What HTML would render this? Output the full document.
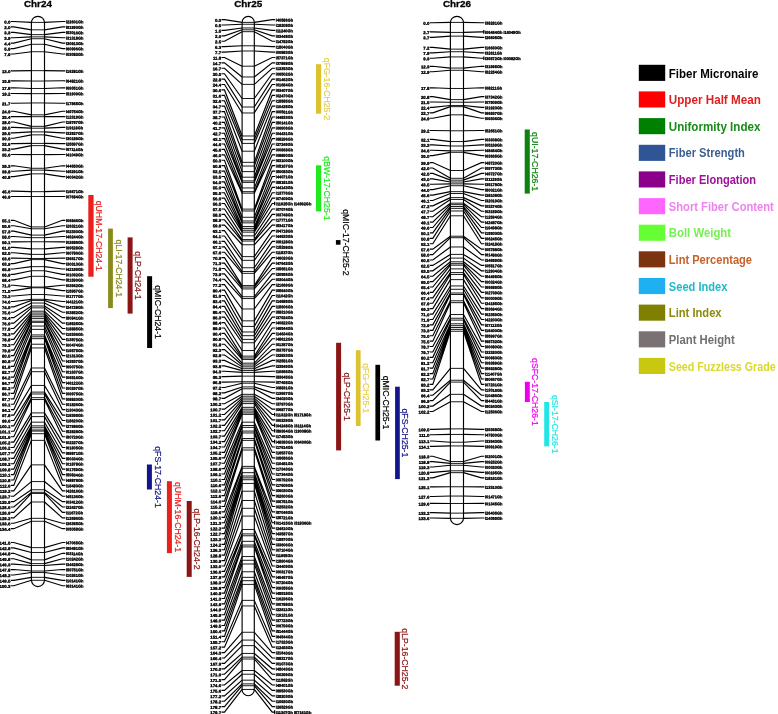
<!DOCTYPE html>
<html><head><meta charset="utf-8"><title>Linkage map Chr24 Chr25 Chr26</title>
<style>
html,body{margin:0;padding:0;background:#fff}
svg{display:block;font-family:"Liberation Sans",Arial,sans-serif}
.t{font-size:9.4px;font-weight:bold;text-anchor:middle;fill:#000;stroke:#000;stroke-width:.3px}
.m{fill:none;stroke:#000;stroke-width:1.15}
.n{fill:none;stroke:#000;stroke-width:.9}
.b{fill:none;stroke:#000;stroke-width:1.15}
.l text{font-size:3.95px;font-weight:bold;text-anchor:end;fill:#000;stroke:#000;stroke-width:.32px}
.r text{font-size:3.9px;font-weight:bold;text-anchor:start;fill:#000;stroke:#000;stroke-width:.32px}
.q{font-size:8.95px;text-anchor:middle;stroke-width:.2px}
.g{font-size:12.7px;font-weight:bold}
</style></head><body>
<svg width="778" height="714" viewBox="0 0 778 714">
<rect width="778" height="714" fill="#fff"/>
<text x="37.9" y="7.0" class="t" textLength="28" lengthAdjust="spacingAndGlyphs">Chr24</text>
<path class="m" d="M10.8 21.50H13.8L31.4 22.40M44.5 22.40L62.4 21.50H65.4M10.8 26.91H13.8L31.4 29.82M44.5 29.82L62.4 26.91H65.4M10.8 32.32H13.8L31.4 34.65M44.5 34.65L62.4 32.32H65.4M10.8 37.73H13.8L31.4 36.88M44.5 36.88L62.4 37.73H65.4M10.8 43.14H13.8L31.4 38.73M44.5 38.73L62.4 43.14H65.4M10.8 48.55H13.8L31.4 44.30M44.5 44.30L62.4 48.55H65.4M10.8 53.96H13.8L31.4 51.72M44.5 51.72L62.4 53.96H65.4M10.8 70.90H13.8L31.4 70.66M44.5 70.66L62.4 70.90H65.4M10.8 80.80H13.8L31.4 81.05M44.5 81.05L62.4 80.80H65.4M10.8 87.80H13.8L31.4 88.47M44.5 88.47L62.4 87.80H65.4M10.8 93.50H13.8L31.4 93.67M44.5 93.67L62.4 93.50H65.4M10.8 103.20H13.8L31.4 102.95M44.5 102.95L62.4 103.20H65.4M10.8 111.20H13.8L31.4 114.83M44.5 114.83L62.4 111.20H65.4M10.8 116.61H13.8L31.4 116.68M44.5 116.68L62.4 116.61H65.4M10.8 122.02H13.8L31.4 126.34M44.5 126.34L62.4 122.02H65.4M10.8 127.43H13.8L31.4 128.19M44.5 128.19L62.4 127.43H65.4M10.8 132.84H13.8L31.4 131.90M44.5 131.90L62.4 132.84H65.4M10.8 138.25H13.8L31.4 134.87M44.5 134.87L62.4 138.25H65.4M10.8 143.66H13.8L31.4 143.41M44.5 143.41L62.4 143.66H65.4M10.8 149.07H13.8L31.4 145.64M44.5 145.64L62.4 149.07H65.4M10.8 154.48H13.8L31.4 154.55M44.5 154.55L62.4 154.48H65.4M10.8 165.80H13.8L31.4 168.28M44.5 168.28L62.4 165.80H65.4M10.8 171.21H13.8L31.4 170.14M44.5 170.14L62.4 171.21H65.4M10.8 176.62H13.8L31.4 173.85M44.5 173.85L62.4 176.62H65.4M10.8 191.10H13.8L31.4 191.67M44.5 191.67L62.4 191.10H65.4M10.8 196.51H13.8L31.4 196.49M44.5 196.49L62.4 196.51H65.4M10.8 220.30H13.8L31.4 226.93M44.5 226.93L62.4 220.30H65.4M10.8 225.71H13.8L31.4 228.79M44.5 228.79L62.4 225.71H65.4M10.8 231.12H13.8L31.4 235.10M44.5 235.10L62.4 231.12H65.4M10.8 236.53H13.8L31.4 237.70M44.5 237.70L62.4 236.53H65.4M10.8 241.94H13.8L31.4 241.78M44.5 241.78L62.4 241.94H65.4M10.8 247.35H13.8L31.4 248.83M44.5 248.83L62.4 247.35H65.4M10.8 252.76H13.8L31.4 254.40M44.5 254.40L62.4 252.76H65.4M10.8 258.17H13.8L31.4 258.48M44.5 258.48L62.4 258.17H65.4M10.8 263.58H13.8L31.4 259.60M44.5 259.60L62.4 263.58H65.4M10.8 268.99H13.8L31.4 266.65M44.5 266.65L62.4 268.99H65.4M10.8 274.40H13.8L31.4 270.73M44.5 270.73L62.4 274.40H65.4M10.8 279.81H13.8L31.4 276.30M44.5 276.30L62.4 279.81H65.4M10.8 285.22H13.8L31.4 287.07M44.5 287.07L62.4 285.22H65.4M10.8 290.63H13.8L31.4 287.81M44.5 287.81L62.4 290.63H65.4M10.8 296.04H13.8L31.4 294.49M44.5 294.49L62.4 296.04H65.4M10.8 301.45H13.8L31.4 299.32M44.5 299.32L62.4 301.45H65.4M10.8 306.86H13.8L31.4 300.43M44.5 300.43L62.4 306.86H65.4M10.8 312.27H13.8L31.4 303.03M44.5 303.03L62.4 312.27H65.4M10.8 317.68H13.8L31.4 306.00M44.5 306.00L62.4 317.68H65.4M10.8 323.09H13.8L31.4 307.85M44.5 307.85L62.4 323.09H65.4M10.8 328.50H13.8L31.4 311.19M44.5 311.19L62.4 328.50H65.4M10.8 333.91H13.8L31.4 313.05M44.5 313.05L62.4 333.91H65.4M10.8 339.32H13.8L31.4 314.91M44.5 314.91L62.4 339.32H65.4M10.8 344.73H13.8L31.4 316.76M44.5 316.76L62.4 344.73H65.4M10.8 350.14H13.8L31.4 318.62M44.5 318.62L62.4 350.14H65.4M10.8 355.55H13.8L31.4 321.22M44.5 321.22L62.4 355.55H65.4M10.8 360.96H13.8L31.4 322.33M44.5 322.33L62.4 360.96H65.4M10.8 366.37H13.8L31.4 326.04M44.5 326.04L62.4 366.37H65.4M10.8 371.78H13.8L31.4 329.38M44.5 329.38L62.4 371.78H65.4M10.8 377.19H13.8L31.4 334.95M44.5 334.95L62.4 377.19H65.4M10.8 382.60H13.8L31.4 336.81M44.5 336.81L62.4 382.60H65.4M10.8 388.01H13.8L31.4 338.66M44.5 338.66L62.4 388.01H65.4M10.8 393.42H13.8L31.4 344.23M44.5 344.23L62.4 393.42H65.4M10.8 398.83H13.8L31.4 347.94M44.5 347.94L62.4 398.83H65.4M10.8 404.24H13.8L31.4 367.99M44.5 367.99L62.4 404.24H65.4M10.8 409.65H13.8L31.4 371.70M44.5 371.70L62.4 409.65H65.4M10.8 415.06H13.8L31.4 385.43M44.5 385.43L62.4 415.06H65.4M10.8 420.47H13.8L31.4 392.12M44.5 392.12L62.4 420.47H65.4M10.8 425.88H13.8L31.4 393.97M44.5 393.97L62.4 425.88H65.4M10.8 431.29H13.8L31.4 397.68M44.5 397.68L62.4 431.29H65.4M10.8 436.70H13.8L31.4 399.54M44.5 399.54L62.4 436.70H65.4M10.8 442.11H13.8L31.4 412.90M44.5 412.90L62.4 442.11H65.4M10.8 447.52H13.8L31.4 416.61M44.5 416.61L62.4 447.52H65.4M10.8 452.93H13.8L31.4 422.18M44.5 422.18L62.4 452.93H65.4M10.8 458.34H13.8L31.4 425.89M44.5 425.89L62.4 458.34H65.4M10.8 463.75H13.8L31.4 427.75M44.5 427.75L62.4 463.75H65.4M10.8 469.16H13.8L31.4 429.98M44.5 429.98L62.4 469.16H65.4M10.8 474.57H13.8L31.4 431.09M44.5 431.09L62.4 474.57H65.4M10.8 479.98H13.8L31.4 433.69M44.5 433.69L62.4 479.98H65.4M10.8 485.39H13.8L31.4 440.37M44.5 440.37L62.4 485.39H65.4M10.8 490.80H13.8L31.4 464.87M44.5 464.87L62.4 490.80H65.4M10.8 496.21H13.8L31.4 481.57M44.5 481.57L62.4 496.21H65.4M10.8 501.62H13.8L31.4 489.74M44.5 489.74L62.4 501.62H65.4M10.8 507.03H13.8L31.4 492.34M44.5 492.34L62.4 507.03H65.4M10.8 512.44H13.8L31.4 493.45M44.5 493.45L62.4 512.44H65.4M10.8 517.85H13.8L31.4 501.99M44.5 501.99L62.4 517.85H65.4M10.8 523.26H13.8L31.4 518.32M44.5 518.32L62.4 523.26H65.4M10.8 528.67H13.8L31.4 521.29M44.5 521.29L62.4 528.67H65.4M10.8 542.50H13.8L31.4 547.65M44.5 547.65L62.4 542.50H65.4M10.8 547.91H13.8L31.4 552.47M44.5 552.47L62.4 547.91H65.4M10.8 553.32H13.8L31.4 559.90M44.5 559.90L62.4 553.32H65.4M10.8 558.73H13.8L31.4 563.61M44.5 563.61L62.4 558.73H65.4M10.8 564.14H13.8L31.4 565.47M44.5 565.47L62.4 564.14H65.4M10.8 569.55H13.8L31.4 571.03M44.5 571.03L62.4 569.55H65.4M10.8 574.96H13.8L31.4 572.52M44.5 572.52L62.4 574.96H65.4M10.8 580.37H13.8L31.4 577.34M44.5 577.34L62.4 580.37H65.4M10.8 585.78H13.8L31.4 580.31M44.5 580.31L62.4 585.78H65.4"/>
<path class="n" d="M31.4 22.40H44.5M31.4 29.82H44.5M31.4 34.65H44.5M31.4 36.88H44.5M31.4 38.73H44.5M31.4 44.30H44.5M31.4 51.72H44.5M31.4 70.66H44.5M31.4 81.05H44.5M31.4 88.47H44.5M31.4 93.67H44.5M31.4 102.95H44.5M31.4 114.83H44.5M31.4 116.68H44.5M31.4 126.34H44.5M31.4 128.19H44.5M31.4 131.90H44.5M31.4 134.87H44.5M31.4 143.41H44.5M31.4 145.64H44.5M31.4 154.55H44.5M31.4 168.28H44.5M31.4 170.14H44.5M31.4 173.85H44.5M31.4 191.67H44.5M31.4 196.49H44.5M31.4 226.93H44.5M31.4 228.79H44.5M31.4 235.10H44.5M31.4 237.70H44.5M31.4 241.78H44.5M31.4 248.83H44.5M31.4 254.40H44.5M31.4 258.48H44.5M31.4 259.60H44.5M31.4 266.65H44.5M31.4 270.73H44.5M31.4 276.30H44.5M31.4 287.07H44.5M31.4 287.81H44.5M31.4 294.49H44.5M31.4 299.32H44.5M31.4 300.43H44.5M31.4 303.03H44.5M31.4 306.00H44.5M31.4 307.85H44.5M31.4 311.19H44.5M31.4 313.05H44.5M31.4 314.91H44.5M31.4 316.76H44.5M31.4 318.62H44.5M31.4 321.22H44.5M31.4 322.33H44.5M31.4 326.04H44.5M31.4 329.38H44.5M31.4 334.95H44.5M31.4 336.81H44.5M31.4 338.66H44.5M31.4 344.23H44.5M31.4 347.94H44.5M31.4 367.99H44.5M31.4 371.70H44.5M31.4 385.43H44.5M31.4 392.12H44.5M31.4 393.97H44.5M31.4 397.68H44.5M31.4 399.54H44.5M31.4 412.90H44.5M31.4 416.61H44.5M31.4 422.18H44.5M31.4 425.89H44.5M31.4 427.75H44.5M31.4 429.98H44.5M31.4 431.09H44.5M31.4 433.69H44.5M31.4 440.37H44.5M31.4 464.87H44.5M31.4 481.57H44.5M31.4 489.74H44.5M31.4 492.34H44.5M31.4 493.45H44.5M31.4 501.99H44.5M31.4 518.32H44.5M31.4 521.29H44.5M31.4 547.65H44.5M31.4 552.47H44.5M31.4 559.90H44.5M31.4 563.61H44.5M31.4 565.47H44.5M31.4 571.03H44.5M31.4 572.52H44.5M31.4 577.34H44.5M31.4 580.31H44.5"/>
<rect class="b" x="31.4" y="16.3" width="13.1" height="570.3" rx="6.5"/>
<g class="l"><text transform="translate(10.4 23.55) rotate(.05) scale(1.1 1)">0.0</text><text transform="translate(10.4 28.96) rotate(.05) scale(1.1 1)">2.0</text><text transform="translate(10.4 34.37) rotate(.05) scale(1.1 1)">3.3</text><text transform="translate(10.4 39.78) rotate(.05) scale(1.1 1)">3.9</text><text transform="translate(10.4 45.19) rotate(.05) scale(1.1 1)">4.4</text><text transform="translate(10.4 50.60) rotate(.05) scale(1.1 1)">5.9</text><text transform="translate(10.4 56.01) rotate(.05) scale(1.1 1)">7.9</text><text transform="translate(10.4 72.95) rotate(.05) scale(1.1 1)">13.0</text><text transform="translate(10.4 82.85) rotate(.05) scale(1.1 1)">15.8</text><text transform="translate(10.4 89.85) rotate(.05) scale(1.1 1)">17.8</text><text transform="translate(10.4 95.55) rotate(.05) scale(1.1 1)">19.2</text><text transform="translate(10.4 105.25) rotate(.05) scale(1.1 1)">21.7</text><text transform="translate(10.4 113.25) rotate(.05) scale(1.1 1)">24.9</text><text transform="translate(10.4 118.66) rotate(.05) scale(1.1 1)">25.4</text><text transform="translate(10.4 124.07) rotate(.05) scale(1.1 1)">28.0</text><text transform="translate(10.4 129.48) rotate(.05) scale(1.1 1)">28.5</text><text transform="translate(10.4 134.89) rotate(.05) scale(1.1 1)">29.5</text><text transform="translate(10.4 140.30) rotate(.05) scale(1.1 1)">30.3</text><text transform="translate(10.4 145.71) rotate(.05) scale(1.1 1)">32.6</text><text transform="translate(10.4 151.12) rotate(.05) scale(1.1 1)">33.2</text><text transform="translate(10.4 156.53) rotate(.05) scale(1.1 1)">35.6</text><text transform="translate(10.4 167.85) rotate(.05) scale(1.1 1)">39.3</text><text transform="translate(10.4 173.26) rotate(.05) scale(1.1 1)">39.8</text><text transform="translate(10.4 178.67) rotate(.05) scale(1.1 1)">40.8</text><text transform="translate(10.4 193.15) rotate(.05) scale(1.1 1)">45.6</text><text transform="translate(10.4 198.56) rotate(.05) scale(1.1 1)">46.9</text><text transform="translate(10.4 222.35) rotate(.05) scale(1.1 1)">55.1</text><text transform="translate(10.4 227.76) rotate(.05) scale(1.1 1)">55.6</text><text transform="translate(10.4 233.17) rotate(.05) scale(1.1 1)">57.3</text><text transform="translate(10.4 238.58) rotate(.05) scale(1.1 1)">58.0</text><text transform="translate(10.4 243.99) rotate(.05) scale(1.1 1)">59.1</text><text transform="translate(10.4 249.40) rotate(.05) scale(1.1 1)">61.0</text><text transform="translate(10.4 254.81) rotate(.05) scale(1.1 1)">62.5</text><text transform="translate(10.4 260.22) rotate(.05) scale(1.1 1)">63.6</text><text transform="translate(10.4 265.63) rotate(.05) scale(1.1 1)">63.9</text><text transform="translate(10.4 271.04) rotate(.05) scale(1.1 1)">65.8</text><text transform="translate(10.4 276.45) rotate(.05) scale(1.1 1)">66.9</text><text transform="translate(10.4 281.86) rotate(.05) scale(1.1 1)">68.4</text><text transform="translate(10.4 287.27) rotate(.05) scale(1.1 1)">71.3</text><text transform="translate(10.4 292.68) rotate(.05) scale(1.1 1)">71.5</text><text transform="translate(10.4 298.09) rotate(.05) scale(1.1 1)">73.3</text><text transform="translate(10.4 303.50) rotate(.05) scale(1.1 1)">74.6</text><text transform="translate(10.4 308.91) rotate(.05) scale(1.1 1)">74.9</text><text transform="translate(10.4 314.32) rotate(.05) scale(1.1 1)">75.6</text><text transform="translate(10.4 319.73) rotate(.05) scale(1.1 1)">76.4</text><text transform="translate(10.4 325.14) rotate(.05) scale(1.1 1)">76.9</text><text transform="translate(10.4 330.55) rotate(.05) scale(1.1 1)">77.8</text><text transform="translate(10.4 335.96) rotate(.05) scale(1.1 1)">78.3</text><text transform="translate(10.4 341.37) rotate(.05) scale(1.1 1)">78.8</text><text transform="translate(10.4 346.78) rotate(.05) scale(1.1 1)">79.3</text><text transform="translate(10.4 352.19) rotate(.05) scale(1.1 1)">79.8</text><text transform="translate(10.4 357.60) rotate(.05) scale(1.1 1)">80.5</text><text transform="translate(10.4 363.01) rotate(.05) scale(1.1 1)">80.8</text><text transform="translate(10.4 368.42) rotate(.05) scale(1.1 1)">81.8</text><text transform="translate(10.4 373.83) rotate(.05) scale(1.1 1)">82.7</text><text transform="translate(10.4 379.24) rotate(.05) scale(1.1 1)">84.2</text><text transform="translate(10.4 384.65) rotate(.05) scale(1.1 1)">84.7</text><text transform="translate(10.4 390.06) rotate(.05) scale(1.1 1)">85.2</text><text transform="translate(10.4 395.47) rotate(.05) scale(1.1 1)">86.7</text><text transform="translate(10.4 400.88) rotate(.05) scale(1.1 1)">87.7</text><text transform="translate(10.4 406.29) rotate(.05) scale(1.1 1)">93.1</text><text transform="translate(10.4 411.70) rotate(.05) scale(1.1 1)">94.1</text><text transform="translate(10.4 417.11) rotate(.05) scale(1.1 1)">97.8</text><text transform="translate(10.4 422.52) rotate(.05) scale(1.1 1)">99.6</text><text transform="translate(10.4 427.93) rotate(.05) scale(1.1 1)">100.1</text><text transform="translate(10.4 433.34) rotate(.05) scale(1.1 1)">101.1</text><text transform="translate(10.4 438.75) rotate(.05) scale(1.1 1)">101.6</text><text transform="translate(10.4 444.16) rotate(.05) scale(1.1 1)">105.2</text><text transform="translate(10.4 449.57) rotate(.05) scale(1.1 1)">106.2</text><text transform="translate(10.4 454.98) rotate(.05) scale(1.1 1)">107.7</text><text transform="translate(10.4 460.39) rotate(.05) scale(1.1 1)">108.7</text><text transform="translate(10.4 465.80) rotate(.05) scale(1.1 1)">109.2</text><text transform="translate(10.4 471.21) rotate(.05) scale(1.1 1)">109.8</text><text transform="translate(10.4 476.62) rotate(.05) scale(1.1 1)">110.1</text><text transform="translate(10.4 482.03) rotate(.05) scale(1.1 1)">110.8</text><text transform="translate(10.4 487.44) rotate(.05) scale(1.1 1)">112.6</text><text transform="translate(10.4 492.85) rotate(.05) scale(1.1 1)">119.2</text><text transform="translate(10.4 498.26) rotate(.05) scale(1.1 1)">123.7</text><text transform="translate(10.4 503.67) rotate(.05) scale(1.1 1)">125.9</text><text transform="translate(10.4 509.08) rotate(.05) scale(1.1 1)">126.6</text><text transform="translate(10.4 514.49) rotate(.05) scale(1.1 1)">126.9</text><text transform="translate(10.4 519.90) rotate(.05) scale(1.1 1)">129.2</text><text transform="translate(10.4 525.31) rotate(.05) scale(1.1 1)">133.6</text><text transform="translate(10.4 530.72) rotate(.05) scale(1.1 1)">134.4</text><text transform="translate(10.4 544.55) rotate(.05) scale(1.1 1)">141.5</text><text transform="translate(10.4 549.96) rotate(.05) scale(1.1 1)">142.8</text><text transform="translate(10.4 555.37) rotate(.05) scale(1.1 1)">144.8</text><text transform="translate(10.4 560.78) rotate(.05) scale(1.1 1)">145.8</text><text transform="translate(10.4 566.19) rotate(.05) scale(1.1 1)">146.3</text><text transform="translate(10.4 571.60) rotate(.05) scale(1.1 1)">147.8</text><text transform="translate(10.4 577.01) rotate(.05) scale(1.1 1)">148.2</text><text transform="translate(10.4 582.42) rotate(.05) scale(1.1 1)">149.5</text><text transform="translate(10.4 587.83) rotate(.05) scale(1.1 1)">150.3</text></g>
<g class="r"><text transform="translate(66.0 23.30) rotate(.05)">i22601Gh</text><text transform="translate(66.0 28.71) rotate(.05)">i51590Gh</text><text transform="translate(66.0 34.12) rotate(.05)">i53016Gh</text><text transform="translate(66.0 39.53) rotate(.05)">i31318Gh</text><text transform="translate(66.0 44.94) rotate(.05)">i30913Gh</text><text transform="translate(66.0 50.35) rotate(.05)">i60996Gh</text><text transform="translate(66.0 55.76) rotate(.05)">i03082Gh</text><text transform="translate(66.0 72.70) rotate(.05)">i16281Gh</text><text transform="translate(66.0 82.60) rotate(.05)">i64821Gh</text><text transform="translate(66.0 89.60) rotate(.05)">i69351Gh</text><text transform="translate(66.0 95.30) rotate(.05)">i51909Gh</text><text transform="translate(66.0 105.00) rotate(.05)">i17865Gh</text><text transform="translate(66.0 113.00) rotate(.05)">i49754Gh</text><text transform="translate(66.0 118.41) rotate(.05)">i12319Gh</text><text transform="translate(66.0 123.82) rotate(.05)">i18757Gh</text><text transform="translate(66.0 129.23) rotate(.05)">i19118Gh</text><text transform="translate(66.0 134.64) rotate(.05)">i32527Gh</text><text transform="translate(66.0 140.05) rotate(.05)">i30189Gh</text><text transform="translate(66.0 145.46) rotate(.05)">i25597Gh</text><text transform="translate(66.0 150.87) rotate(.05)">i67114Gh</text><text transform="translate(66.0 156.28) rotate(.05)">i41049Gh</text><text transform="translate(66.0 167.60) rotate(.05)">i44650Gh</text><text transform="translate(66.0 173.01) rotate(.05)">i45291Gh</text><text transform="translate(66.0 178.42) rotate(.05)">i40342Gh</text><text transform="translate(66.0 192.90) rotate(.05)">i16671Gh</text><text transform="translate(66.0 198.31) rotate(.05)">i07684Gh</text><text transform="translate(66.0 222.10) rotate(.05)">i06846Gh</text><text transform="translate(66.0 227.51) rotate(.05)">i26321Gh</text><text transform="translate(66.0 232.92) rotate(.05)">i02330Gh</text><text transform="translate(66.0 238.33) rotate(.05)">i49244Gh</text><text transform="translate(66.0 243.74) rotate(.05)">i02685Gh</text><text transform="translate(66.0 249.15) rotate(.05)">i69528Gh</text><text transform="translate(66.0 254.56) rotate(.05)">i60786Gh</text><text transform="translate(66.0 259.97) rotate(.05)">i36617Gh</text><text transform="translate(66.0 265.38) rotate(.05)">i30313Gh</text><text transform="translate(66.0 270.79) rotate(.05)">i42159Gh</text><text transform="translate(66.0 276.20) rotate(.05)">i01092Gh</text><text transform="translate(66.0 281.61) rotate(.05)">i51590Gh</text><text transform="translate(66.0 287.02) rotate(.05)">i03962Gh</text><text transform="translate(66.0 292.43) rotate(.05)">i15957Gh</text><text transform="translate(66.0 297.84) rotate(.05)">i01777Gh</text><text transform="translate(66.0 303.25) rotate(.05)">i44121Gh</text><text transform="translate(66.0 308.66) rotate(.05)">i24728Gh</text><text transform="translate(66.0 314.07) rotate(.05)">i03852Gh</text><text transform="translate(66.0 319.48) rotate(.05)">i50841Gh</text><text transform="translate(66.0 324.89) rotate(.05)">i18525Gh</text><text transform="translate(66.0 330.30) rotate(.05)">i18885Gh</text><text transform="translate(66.0 335.71) rotate(.05)">i19336Gh</text><text transform="translate(66.0 341.12) rotate(.05)">i13875Gh</text><text transform="translate(66.0 346.53) rotate(.05)">i00474Gh</text><text transform="translate(66.0 351.94) rotate(.05)">i19575Gh</text><text transform="translate(66.0 357.35) rotate(.05)">i21313Gh</text><text transform="translate(66.0 362.76) rotate(.05)">i43537Gh</text><text transform="translate(66.0 368.17) rotate(.05)">i69075Gh</text><text transform="translate(66.0 373.58) rotate(.05)">i01637Gh</text><text transform="translate(66.0 378.99) rotate(.05)">i06516Gh</text><text transform="translate(66.0 384.40) rotate(.05)">i46122Gh</text><text transform="translate(66.0 389.81) rotate(.05)">i00297Gh</text><text transform="translate(66.0 395.22) rotate(.05)">i09975Gh</text><text transform="translate(66.0 400.63) rotate(.05)">i08820Gh</text><text transform="translate(66.0 406.04) rotate(.05)">i01826Gh</text><text transform="translate(66.0 411.45) rotate(.05)">i13043Gh</text><text transform="translate(66.0 416.86) rotate(.05)">i18395Gh</text><text transform="translate(66.0 422.27) rotate(.05)">i18620Gh</text><text transform="translate(66.0 427.68) rotate(.05)">i27986Gh</text><text transform="translate(66.0 433.09) rotate(.05)">i52828Gh</text><text transform="translate(66.0 438.50) rotate(.05)">i50729Gh</text><text transform="translate(66.0 443.91) rotate(.05)">i02227Gh</text><text transform="translate(66.0 449.32) rotate(.05)">i61805Gh</text><text transform="translate(66.0 454.73) rotate(.05)">i58871Gh</text><text transform="translate(66.0 460.14) rotate(.05)">i50334Gh</text><text transform="translate(66.0 465.55) rotate(.05)">i01878Gh</text><text transform="translate(66.0 470.96) rotate(.05)">i01759Gh</text><text transform="translate(66.0 476.37) rotate(.05)">i59834Gh</text><text transform="translate(66.0 481.78) rotate(.05)">i48878Gh</text><text transform="translate(66.0 487.19) rotate(.05)">i18483Gh</text><text transform="translate(66.0 492.60) rotate(.05)">i42616Gh</text><text transform="translate(66.0 498.01) rotate(.05)">i45136Gh</text><text transform="translate(66.0 503.42) rotate(.05)">i03412Gh</text><text transform="translate(66.0 508.83) rotate(.05)">i22427Gh</text><text transform="translate(66.0 514.24) rotate(.05)">i11672Gh</text><text transform="translate(66.0 519.65) rotate(.05)">i12686Gh</text><text transform="translate(66.0 525.06) rotate(.05)">i26355Gh</text><text transform="translate(66.0 530.47) rotate(.05)">i05058Gh</text><text transform="translate(66.0 544.30) rotate(.05)">i47065Gh</text><text transform="translate(66.0 549.71) rotate(.05)">i59481Gh</text><text transform="translate(66.0 555.12) rotate(.05)">i03114Gh</text><text transform="translate(66.0 560.53) rotate(.05)">i10242Gh</text><text transform="translate(66.0 565.94) rotate(.05)">i34628Gh</text><text transform="translate(66.0 571.35) rotate(.05)">i59751Gh</text><text transform="translate(66.0 576.76) rotate(.05)">i10261Gh</text><text transform="translate(66.0 582.17) rotate(.05)">i10141Gh</text><text transform="translate(66.0 587.58) rotate(.05)">i63141Gh</text></g>
<text x="248.2" y="7.0" class="t" textLength="28" lengthAdjust="spacingAndGlyphs">Chr25</text>
<path class="m" d="M221.5 19.60H224.5L242.1 22.40M254.3 22.40L272.2 19.60H275.2M221.5 25.01H224.5L242.1 24.26M254.3 24.26L272.2 25.01H275.2M221.5 30.42H224.5L242.1 27.97M254.3 27.97L272.2 30.42H275.2M221.5 35.83H224.5L242.1 29.82M254.3 29.82L272.2 35.83H275.2M221.5 41.24H224.5L242.1 31.68M254.3 31.68L272.2 41.24H275.2M221.5 46.65H224.5L242.1 45.79M254.3 45.79L272.2 46.65H275.2M221.5 52.06H224.5L242.1 50.98M254.3 50.98L272.2 52.06H275.2M221.5 57.47H224.5L242.1 66.20M254.3 66.20L272.2 57.47H275.2M221.5 62.88H224.5L242.1 76.97M254.3 76.97L272.2 62.88H275.2M221.5 68.29H224.5L242.1 84.39M254.3 84.39L272.2 68.29H275.2M221.5 73.70H224.5L242.1 98.50M254.3 98.50L272.2 73.70H275.2M221.5 79.11H224.5L242.1 107.03M254.3 107.03L272.2 79.11H275.2M221.5 84.52H224.5L242.1 112.97M254.3 112.97L272.2 84.52H275.2M221.5 89.93H224.5L242.1 135.99M254.3 135.99L272.2 89.93H275.2M221.5 95.34H224.5L242.1 139.70M254.3 139.70L272.2 95.34H275.2M221.5 100.75H224.5L242.1 143.41M254.3 143.41L272.2 100.75H275.2M221.5 106.16H224.5L242.1 151.21M254.3 151.21L272.2 106.16H275.2M221.5 111.57H224.5L242.1 162.34M254.3 162.34L272.2 111.57H275.2M221.5 116.98H224.5L242.1 166.05M254.3 166.05L272.2 116.98H275.2M221.5 122.39H224.5L242.1 171.62M254.3 171.62L272.2 122.39H275.2M221.5 127.80H224.5L242.1 177.19M254.3 177.19L272.2 127.80H275.2M221.5 133.21H224.5L242.1 180.90M254.3 180.90L272.2 133.21H275.2M221.5 138.62H224.5L242.1 182.39M254.3 182.39L272.2 138.62H275.2M221.5 144.03H224.5L242.1 187.96M254.3 187.96L272.2 144.03H275.2M221.5 149.44H224.5L242.1 191.67M254.3 191.67L272.2 149.44H275.2M221.5 154.85H224.5L242.1 193.15M254.3 193.15L272.2 154.85H275.2M221.5 160.26H224.5L242.1 209.11M254.3 209.11L272.2 160.26H275.2M221.5 165.67H224.5L242.1 210.97M254.3 210.97L272.2 165.67H275.2M221.5 171.08H224.5L242.1 217.28M254.3 217.28L272.2 171.08H275.2M221.5 176.49H224.5L242.1 220.99M254.3 220.99L272.2 176.49H275.2M221.5 181.90H224.5L242.1 222.85M254.3 222.85L272.2 181.90H275.2M221.5 187.31H224.5L242.1 226.56M254.3 226.56L272.2 187.31H275.2M221.5 192.72H224.5L242.1 228.42M254.3 228.42L272.2 192.72H275.2M221.5 198.13H224.5L242.1 230.27M254.3 230.27L272.2 198.13H275.2M221.5 203.54H224.5L242.1 232.13M254.3 232.13L272.2 203.54H275.2M221.5 208.95H224.5L242.1 235.84M254.3 235.84L272.2 208.95H275.2M221.5 214.36H224.5L242.1 239.55M254.3 239.55L272.2 214.36H275.2M221.5 219.77H224.5L242.1 241.04M254.3 241.04L272.2 219.77H275.2M221.5 225.18H224.5L242.1 244.75M254.3 244.75L272.2 225.18H275.2M221.5 230.59H224.5L242.1 256.63M254.3 256.63L272.2 230.59H275.2M221.5 236.00H224.5L242.1 260.34M254.3 260.34L272.2 236.00H275.2M221.5 241.41H224.5L242.1 267.76M254.3 267.76L272.2 241.41H275.2M221.5 246.82H224.5L242.1 271.48M254.3 271.48L272.2 246.82H275.2M221.5 252.23H224.5L242.1 273.33M254.3 273.33L272.2 252.23H275.2M221.5 257.64H224.5L242.1 285.58M254.3 285.58L272.2 257.64H275.2M221.5 263.05H224.5L242.1 287.07M254.3 287.07L272.2 263.05H275.2M221.5 268.46H224.5L242.1 288.92M254.3 288.92L272.2 268.46H275.2M221.5 273.87H224.5L242.1 296.72M254.3 296.72L272.2 273.87H275.2M221.5 279.28H224.5L242.1 298.57M254.3 298.57L272.2 279.28H275.2M221.5 284.69H224.5L242.1 308.97M254.3 308.97L272.2 284.69H275.2M221.5 290.10H224.5L242.1 320.84M254.3 320.84L272.2 290.10H275.2M221.5 295.51H224.5L242.1 326.41M254.3 326.41L272.2 295.51H275.2M221.5 300.92H224.5L242.1 331.98M254.3 331.98L272.2 300.92H275.2M221.5 306.33H224.5L242.1 335.69M254.3 335.69L272.2 306.33H275.2M221.5 311.74H224.5L242.1 339.40M254.3 339.40L272.2 311.74H275.2M221.5 317.15H224.5L242.1 342.75M254.3 342.75L272.2 317.15H275.2M221.5 322.56H224.5L242.1 350.54M254.3 350.54L272.2 322.56H275.2M221.5 327.97H224.5L242.1 356.11M254.3 356.11L272.2 327.97H275.2M221.5 333.38H224.5L242.1 357.96M254.3 357.96L272.2 333.38H275.2M221.5 338.79H224.5L242.1 359.45M254.3 359.45L272.2 338.79H275.2M221.5 344.20H224.5L242.1 363.16M254.3 363.16L272.2 344.20H275.2M221.5 349.61H224.5L242.1 365.02M254.3 365.02L272.2 349.61H275.2M221.5 355.02H224.5L242.1 366.87M254.3 366.87L272.2 355.02H275.2M221.5 360.43H224.5L242.1 368.73M254.3 368.73L272.2 360.43H275.2M221.5 365.84H224.5L242.1 370.59M254.3 370.59L272.2 365.84H275.2M221.5 371.25H224.5L242.1 372.44M254.3 372.44L272.2 371.25H275.2M221.5 376.66H224.5L242.1 376.15M254.3 376.15L272.2 376.66H275.2M221.5 382.07H224.5L242.1 381.72M254.3 381.72L272.2 382.07H275.2M221.5 387.48H224.5L242.1 383.21M254.3 383.21L272.2 387.48H275.2M221.5 392.89H224.5L242.1 386.92M254.3 386.92L272.2 392.89H275.2M221.5 398.30H224.5L242.1 388.77M254.3 388.77L272.2 398.30H275.2M221.5 403.71H224.5L242.1 394.34M254.3 394.34L272.2 403.71H275.2M221.5 409.12H224.5L242.1 396.20M254.3 396.20L272.2 409.12H275.2M221.5 414.53H224.5L242.1 398.05M254.3 398.05L272.2 414.53H275.2M221.5 419.94H224.5L242.1 399.91M254.3 399.91L272.2 419.94H275.2M221.5 425.35H224.5L242.1 401.77M254.3 401.77L272.2 425.35H275.2M221.5 430.76H224.5L242.1 403.62M254.3 403.62L272.2 430.76H275.2M221.5 436.17H224.5L242.1 407.33M254.3 407.33L272.2 436.17H275.2M221.5 441.58H224.5L242.1 409.19M254.3 409.19L272.2 441.58H275.2M221.5 446.99H224.5L242.1 411.05M254.3 411.05L272.2 446.99H275.2M221.5 452.40H224.5L242.1 412.90M254.3 412.90L272.2 452.40H275.2M221.5 457.81H224.5L242.1 414.39M254.3 414.39L272.2 457.81H275.2M221.5 463.22H224.5L242.1 422.18M254.3 422.18L272.2 463.22H275.2M221.5 468.63H224.5L242.1 425.52M254.3 425.52L272.2 468.63H275.2M221.5 474.04H224.5L242.1 427.38M254.3 427.38L272.2 474.04H275.2M221.5 479.45H224.5L242.1 431.09M254.3 431.09L272.2 479.45H275.2M221.5 484.86H224.5L242.1 432.95M254.3 432.95L272.2 484.86H275.2M221.5 490.27H224.5L242.1 438.52M254.3 438.52L272.2 490.27H275.2M221.5 495.68H224.5L242.1 440.37M254.3 440.37L272.2 495.68H275.2M221.5 501.09H224.5L242.1 447.80M254.3 447.80L272.2 501.09H275.2M221.5 506.50H224.5L242.1 450.02M254.3 450.02L272.2 506.50H275.2M221.5 511.91H224.5L242.1 466.36M254.3 466.36L272.2 511.91H275.2M221.5 517.32H224.5L242.1 468.21M254.3 468.21L272.2 517.32H275.2M221.5 522.73H224.5L242.1 472.67M254.3 472.67L272.2 522.73H275.2M221.5 528.14H224.5L242.1 476.01M254.3 476.01L272.2 528.14H275.2M221.5 533.55H224.5L242.1 477.86M254.3 477.86L272.2 533.55H275.2M221.5 538.96H224.5L242.1 479.72M254.3 479.72L272.2 538.96H275.2M221.5 544.37H224.5L242.1 483.43M254.3 483.43L272.2 544.37H275.2M221.5 549.78H224.5L242.1 491.23M254.3 491.23L272.2 549.78H275.2M221.5 555.19H224.5L242.1 500.51M254.3 500.51L272.2 555.19H275.2M221.5 560.60H224.5L242.1 508.30M254.3 508.30L272.2 560.60H275.2M221.5 566.01H224.5L242.1 516.10M254.3 516.10L272.2 566.01H275.2M221.5 571.42H224.5L242.1 529.46M254.3 529.46L272.2 571.42H275.2M221.5 576.83H224.5L242.1 533.91M254.3 533.91L272.2 576.83H275.2M221.5 582.24H224.5L242.1 535.77M254.3 535.77L272.2 582.24H275.2M221.5 587.65H224.5L242.1 541.34M254.3 541.34L272.2 587.65H275.2M221.5 593.06H224.5L242.1 545.05M254.3 545.05L272.2 593.06H275.2M221.5 598.47H224.5L242.1 546.91M254.3 546.91L272.2 598.47H275.2M221.5 603.88H224.5L242.1 556.56M254.3 556.56L272.2 603.88H275.2M221.5 609.29H224.5L242.1 560.27M254.3 560.27L272.2 609.29H275.2M221.5 614.70H224.5L242.1 563.98M254.3 563.98L272.2 614.70H275.2M221.5 620.11H224.5L242.1 571.78M254.3 571.78L272.2 620.11H275.2M221.5 625.52H224.5L242.1 577.34M254.3 577.34L272.2 625.52H275.2M221.5 630.93H224.5L242.1 580.68M254.3 580.68L272.2 630.93H275.2M221.5 636.34H224.5L242.1 584.40M254.3 584.40L272.2 636.34H275.2M221.5 641.75H224.5L242.1 600.36M254.3 600.36L272.2 641.75H275.2M221.5 647.16H224.5L242.1 605.93M254.3 605.93L272.2 647.16H275.2M221.5 652.57H224.5L242.1 632.28M254.3 632.28L272.2 652.57H275.2M221.5 657.98H224.5L242.1 640.08M254.3 640.08L272.2 657.98H275.2M221.5 663.39H224.5L242.1 645.64M254.3 645.64L272.2 663.39H275.2M221.5 668.80H224.5L242.1 653.44M254.3 653.44L272.2 668.80H275.2M221.5 674.21H224.5L242.1 657.15M254.3 657.15L272.2 674.21H275.2M221.5 679.62H224.5L242.1 659.01M254.3 659.01L272.2 679.62H275.2M221.5 685.03H224.5L242.1 670.52M254.3 670.52L272.2 685.03H275.2M221.5 690.44H224.5L242.1 674.23M254.3 674.23L272.2 690.44H275.2M221.5 695.85H224.5L242.1 680.17M254.3 680.17L272.2 695.85H275.2M221.5 701.26H224.5L242.1 683.88M254.3 683.88L272.2 701.26H275.2M221.5 706.67H224.5L242.1 685.73M254.3 685.73L272.2 706.67H275.2M221.5 712.08H224.5L242.1 689.45M254.3 689.45L272.2 712.08H275.2"/>
<path class="n" d="M242.1 22.40H254.3M242.1 24.26H254.3M242.1 27.97H254.3M242.1 29.82H254.3M242.1 31.68H254.3M242.1 45.79H254.3M242.1 50.98H254.3M242.1 66.20H254.3M242.1 76.97H254.3M242.1 84.39H254.3M242.1 98.50H254.3M242.1 107.03H254.3M242.1 112.97H254.3M242.1 135.99H254.3M242.1 139.70H254.3M242.1 143.41H254.3M242.1 151.21H254.3M242.1 162.34H254.3M242.1 166.05H254.3M242.1 171.62H254.3M242.1 177.19H254.3M242.1 180.90H254.3M242.1 182.39H254.3M242.1 187.96H254.3M242.1 191.67H254.3M242.1 193.15H254.3M242.1 209.11H254.3M242.1 210.97H254.3M242.1 217.28H254.3M242.1 220.99H254.3M242.1 222.85H254.3M242.1 226.56H254.3M242.1 228.42H254.3M242.1 230.27H254.3M242.1 232.13H254.3M242.1 235.84H254.3M242.1 239.55H254.3M242.1 241.04H254.3M242.1 244.75H254.3M242.1 256.63H254.3M242.1 260.34H254.3M242.1 267.76H254.3M242.1 271.48H254.3M242.1 273.33H254.3M242.1 285.58H254.3M242.1 287.07H254.3M242.1 288.92H254.3M242.1 296.72H254.3M242.1 298.57H254.3M242.1 308.97H254.3M242.1 320.84H254.3M242.1 326.41H254.3M242.1 331.98H254.3M242.1 335.69H254.3M242.1 339.40H254.3M242.1 342.75H254.3M242.1 350.54H254.3M242.1 356.11H254.3M242.1 357.96H254.3M242.1 359.45H254.3M242.1 363.16H254.3M242.1 365.02H254.3M242.1 366.87H254.3M242.1 368.73H254.3M242.1 370.59H254.3M242.1 372.44H254.3M242.1 376.15H254.3M242.1 381.72H254.3M242.1 383.21H254.3M242.1 386.92H254.3M242.1 388.77H254.3M242.1 394.34H254.3M242.1 396.20H254.3M242.1 398.05H254.3M242.1 399.91H254.3M242.1 401.77H254.3M242.1 403.62H254.3M242.1 407.33H254.3M242.1 409.19H254.3M242.1 411.05H254.3M242.1 412.90H254.3M242.1 414.39H254.3M242.1 422.18H254.3M242.1 425.52H254.3M242.1 427.38H254.3M242.1 431.09H254.3M242.1 432.95H254.3M242.1 438.52H254.3M242.1 440.37H254.3M242.1 447.80H254.3M242.1 450.02H254.3M242.1 466.36H254.3M242.1 468.21H254.3M242.1 472.67H254.3M242.1 476.01H254.3M242.1 477.86H254.3M242.1 479.72H254.3M242.1 483.43H254.3M242.1 491.23H254.3M242.1 500.51H254.3M242.1 508.30H254.3M242.1 516.10H254.3M242.1 529.46H254.3M242.1 533.91H254.3M242.1 535.77H254.3M242.1 541.34H254.3M242.1 545.05H254.3M242.1 546.91H254.3M242.1 556.56H254.3M242.1 560.27H254.3M242.1 563.98H254.3M242.1 571.78H254.3M242.1 577.34H254.3M242.1 580.68H254.3M242.1 584.40H254.3M242.1 600.36H254.3M242.1 605.93H254.3M242.1 632.28H254.3M242.1 640.08H254.3M242.1 645.64H254.3M242.1 653.44H254.3M242.1 657.15H254.3M242.1 659.01H254.3M242.1 670.52H254.3M242.1 674.23H254.3M242.1 680.17H254.3M242.1 683.88H254.3M242.1 685.73H254.3M242.1 689.45H254.3"/>
<rect class="b" x="242.1" y="16.3" width="12.2" height="679.4" rx="6.1"/>
<path class="m" d="M274.6 201.74v3.6"/>
<path class="m" d="M274.6 412.73v3.6"/>
<path class="m" d="M274.6 423.55v3.6"/>
<path class="m" d="M274.6 428.96v3.6"/>
<path class="m" d="M274.6 439.78v3.6"/>
<path class="m" d="M274.6 520.93v3.6"/>
<path class="m" d="M274.6 710.28v3.6"/>
<g class="l"><text transform="translate(221.1 21.65) rotate(.05) scale(1.1 1)">0.0</text><text transform="translate(221.1 27.06) rotate(.05) scale(1.1 1)">0.5</text><text transform="translate(221.1 32.47) rotate(.05) scale(1.1 1)">1.5</text><text transform="translate(221.1 37.88) rotate(.05) scale(1.1 1)">2.0</text><text transform="translate(221.1 43.29) rotate(.05) scale(1.1 1)">2.5</text><text transform="translate(221.1 48.70) rotate(.05) scale(1.1 1)">6.3</text><text transform="translate(221.1 54.11) rotate(.05) scale(1.1 1)">7.7</text><text transform="translate(221.1 59.52) rotate(.05) scale(1.1 1)">11.8</text><text transform="translate(221.1 64.93) rotate(.05) scale(1.1 1)">14.7</text><text transform="translate(221.1 70.34) rotate(.05) scale(1.1 1)">16.7</text><text transform="translate(221.1 75.75) rotate(.05) scale(1.1 1)">20.5</text><text transform="translate(221.1 81.16) rotate(.05) scale(1.1 1)">22.8</text><text transform="translate(221.1 86.57) rotate(.05) scale(1.1 1)">24.4</text><text transform="translate(221.1 91.98) rotate(.05) scale(1.1 1)">30.6</text><text transform="translate(221.1 97.39) rotate(.05) scale(1.1 1)">31.6</text><text transform="translate(221.1 102.80) rotate(.05) scale(1.1 1)">32.6</text><text transform="translate(221.1 108.21) rotate(.05) scale(1.1 1)">34.7</text><text transform="translate(221.1 113.62) rotate(.05) scale(1.1 1)">37.7</text><text transform="translate(221.1 119.03) rotate(.05) scale(1.1 1)">38.7</text><text transform="translate(221.1 124.44) rotate(.05) scale(1.1 1)">40.2</text><text transform="translate(221.1 129.85) rotate(.05) scale(1.1 1)">41.7</text><text transform="translate(221.1 135.26) rotate(.05) scale(1.1 1)">42.7</text><text transform="translate(221.1 140.67) rotate(.05) scale(1.1 1)">43.1</text><text transform="translate(221.1 146.08) rotate(.05) scale(1.1 1)">44.6</text><text transform="translate(221.1 151.49) rotate(.05) scale(1.1 1)">45.6</text><text transform="translate(221.1 156.90) rotate(.05) scale(1.1 1)">46.0</text><text transform="translate(221.1 162.31) rotate(.05) scale(1.1 1)">50.3</text><text transform="translate(221.1 167.72) rotate(.05) scale(1.1 1)">50.8</text><text transform="translate(221.1 173.13) rotate(.05) scale(1.1 1)">52.5</text><text transform="translate(221.1 178.54) rotate(.05) scale(1.1 1)">53.5</text><text transform="translate(221.1 183.95) rotate(.05) scale(1.1 1)">54.0</text><text transform="translate(221.1 189.36) rotate(.05) scale(1.1 1)">55.0</text><text transform="translate(221.1 194.77) rotate(.05) scale(1.1 1)">55.5</text><text transform="translate(221.1 200.18) rotate(.05) scale(1.1 1)">56.0</text><text transform="translate(221.1 205.59) rotate(.05) scale(1.1 1)">56.5</text><text transform="translate(221.1 211.00) rotate(.05) scale(1.1 1)">57.5</text><text transform="translate(221.1 216.41) rotate(.05) scale(1.1 1)">58.5</text><text transform="translate(221.1 221.82) rotate(.05) scale(1.1 1)">58.9</text><text transform="translate(221.1 227.23) rotate(.05) scale(1.1 1)">59.9</text><text transform="translate(221.1 232.64) rotate(.05) scale(1.1 1)">63.1</text><text transform="translate(221.1 238.05) rotate(.05) scale(1.1 1)">64.1</text><text transform="translate(221.1 243.46) rotate(.05) scale(1.1 1)">66.1</text><text transform="translate(221.1 248.87) rotate(.05) scale(1.1 1)">67.1</text><text transform="translate(221.1 254.28) rotate(.05) scale(1.1 1)">67.6</text><text transform="translate(221.1 259.69) rotate(.05) scale(1.1 1)">70.9</text><text transform="translate(221.1 265.10) rotate(.05) scale(1.1 1)">71.3</text><text transform="translate(221.1 270.51) rotate(.05) scale(1.1 1)">71.8</text><text transform="translate(221.1 275.92) rotate(.05) scale(1.1 1)">73.9</text><text transform="translate(221.1 281.33) rotate(.05) scale(1.1 1)">74.4</text><text transform="translate(221.1 286.74) rotate(.05) scale(1.1 1)">77.2</text><text transform="translate(221.1 292.15) rotate(.05) scale(1.1 1)">80.4</text><text transform="translate(221.1 297.56) rotate(.05) scale(1.1 1)">81.9</text><text transform="translate(221.1 302.97) rotate(.05) scale(1.1 1)">83.4</text><text transform="translate(221.1 308.38) rotate(.05) scale(1.1 1)">84.4</text><text transform="translate(221.1 313.79) rotate(.05) scale(1.1 1)">85.4</text><text transform="translate(221.1 319.20) rotate(.05) scale(1.1 1)">86.3</text><text transform="translate(221.1 324.61) rotate(.05) scale(1.1 1)">88.4</text><text transform="translate(221.1 330.02) rotate(.05) scale(1.1 1)">89.9</text><text transform="translate(221.1 335.43) rotate(.05) scale(1.1 1)">90.4</text><text transform="translate(221.1 340.84) rotate(.05) scale(1.1 1)">90.8</text><text transform="translate(221.1 346.25) rotate(.05) scale(1.1 1)">91.8</text><text transform="translate(221.1 351.66) rotate(.05) scale(1.1 1)">92.3</text><text transform="translate(221.1 357.07) rotate(.05) scale(1.1 1)">92.8</text><text transform="translate(221.1 362.48) rotate(.05) scale(1.1 1)">93.3</text><text transform="translate(221.1 367.89) rotate(.05) scale(1.1 1)">93.8</text><text transform="translate(221.1 373.30) rotate(.05) scale(1.1 1)">94.3</text><text transform="translate(221.1 378.71) rotate(.05) scale(1.1 1)">95.3</text><text transform="translate(221.1 384.12) rotate(.05) scale(1.1 1)">96.8</text><text transform="translate(221.1 389.53) rotate(.05) scale(1.1 1)">97.2</text><text transform="translate(221.1 394.94) rotate(.05) scale(1.1 1)">98.2</text><text transform="translate(221.1 400.35) rotate(.05) scale(1.1 1)">98.7</text><text transform="translate(221.1 405.76) rotate(.05) scale(1.1 1)">100.2</text><text transform="translate(221.1 411.17) rotate(.05) scale(1.1 1)">100.7</text><text transform="translate(221.1 416.58) rotate(.05) scale(1.1 1)">101.2</text><text transform="translate(221.1 421.99) rotate(.05) scale(1.1 1)">101.7</text><text transform="translate(221.1 427.40) rotate(.05) scale(1.1 1)">102.2</text><text transform="translate(221.1 432.81) rotate(.05) scale(1.1 1)">102.7</text><text transform="translate(221.1 438.22) rotate(.05) scale(1.1 1)">103.7</text><text transform="translate(221.1 443.63) rotate(.05) scale(1.1 1)">104.2</text><text transform="translate(221.1 449.04) rotate(.05) scale(1.1 1)">104.7</text><text transform="translate(221.1 454.45) rotate(.05) scale(1.1 1)">105.2</text><text transform="translate(221.1 459.86) rotate(.05) scale(1.1 1)">105.6</text><text transform="translate(221.1 465.27) rotate(.05) scale(1.1 1)">107.7</text><text transform="translate(221.1 470.68) rotate(.05) scale(1.1 1)">108.6</text><text transform="translate(221.1 476.09) rotate(.05) scale(1.1 1)">109.1</text><text transform="translate(221.1 481.50) rotate(.05) scale(1.1 1)">110.1</text><text transform="translate(221.1 486.91) rotate(.05) scale(1.1 1)">110.6</text><text transform="translate(221.1 492.32) rotate(.05) scale(1.1 1)">112.1</text><text transform="translate(221.1 497.73) rotate(.05) scale(1.1 1)">112.6</text><text transform="translate(221.1 503.14) rotate(.05) scale(1.1 1)">114.6</text><text transform="translate(221.1 508.55) rotate(.05) scale(1.1 1)">115.2</text><text transform="translate(221.1 513.96) rotate(.05) scale(1.1 1)">119.6</text><text transform="translate(221.1 519.37) rotate(.05) scale(1.1 1)">120.1</text><text transform="translate(221.1 524.78) rotate(.05) scale(1.1 1)">121.3</text><text transform="translate(221.1 530.19) rotate(.05) scale(1.1 1)">122.2</text><text transform="translate(221.1 535.60) rotate(.05) scale(1.1 1)">122.7</text><text transform="translate(221.1 541.01) rotate(.05) scale(1.1 1)">123.2</text><text transform="translate(221.1 546.42) rotate(.05) scale(1.1 1)">124.2</text><text transform="translate(221.1 551.83) rotate(.05) scale(1.1 1)">126.3</text><text transform="translate(221.1 557.24) rotate(.05) scale(1.1 1)">128.8</text><text transform="translate(221.1 562.65) rotate(.05) scale(1.1 1)">130.9</text><text transform="translate(221.1 568.06) rotate(.05) scale(1.1 1)">133.0</text><text transform="translate(221.1 573.47) rotate(.05) scale(1.1 1)">136.6</text><text transform="translate(221.1 578.88) rotate(.05) scale(1.1 1)">137.8</text><text transform="translate(221.1 584.29) rotate(.05) scale(1.1 1)">138.3</text><text transform="translate(221.1 589.70) rotate(.05) scale(1.1 1)">139.8</text><text transform="translate(221.1 595.11) rotate(.05) scale(1.1 1)">140.8</text><text transform="translate(221.1 600.52) rotate(.05) scale(1.1 1)">141.3</text><text transform="translate(221.1 605.93) rotate(.05) scale(1.1 1)">143.9</text><text transform="translate(221.1 611.34) rotate(.05) scale(1.1 1)">144.9</text><text transform="translate(221.1 616.75) rotate(.05) scale(1.1 1)">145.9</text><text transform="translate(221.1 622.16) rotate(.05) scale(1.1 1)">148.0</text><text transform="translate(221.1 627.57) rotate(.05) scale(1.1 1)">149.5</text><text transform="translate(221.1 632.98) rotate(.05) scale(1.1 1)">150.4</text><text transform="translate(221.1 638.39) rotate(.05) scale(1.1 1)">151.4</text><text transform="translate(221.1 643.80) rotate(.05) scale(1.1 1)">155.7</text><text transform="translate(221.1 649.21) rotate(.05) scale(1.1 1)">157.2</text><text transform="translate(221.1 654.62) rotate(.05) scale(1.1 1)">164.3</text><text transform="translate(221.1 660.03) rotate(.05) scale(1.1 1)">166.4</text><text transform="translate(221.1 665.44) rotate(.05) scale(1.1 1)">167.9</text><text transform="translate(221.1 670.85) rotate(.05) scale(1.1 1)">170.0</text><text transform="translate(221.1 676.26) rotate(.05) scale(1.1 1)">171.0</text><text transform="translate(221.1 681.67) rotate(.05) scale(1.1 1)">171.5</text><text transform="translate(221.1 687.08) rotate(.05) scale(1.1 1)">174.6</text><text transform="translate(221.1 692.49) rotate(.05) scale(1.1 1)">175.6</text><text transform="translate(221.1 697.90) rotate(.05) scale(1.1 1)">177.2</text><text transform="translate(221.1 703.31) rotate(.05) scale(1.1 1)">178.2</text><text transform="translate(221.1 708.72) rotate(.05) scale(1.1 1)">178.7</text><text transform="translate(221.1 714.13) rotate(.05) scale(1.1 1)">179.7</text></g>
<g class="r"><text transform="translate(275.8 21.40) rotate(.05)">i40586Gh</text><text transform="translate(275.8 26.81) rotate(.05)">i19208Gh</text><text transform="translate(275.8 32.22) rotate(.05)">i11240Gh</text><text transform="translate(275.8 37.63) rotate(.05)">i03448Gh</text><text transform="translate(275.8 43.04) rotate(.05)">i14782Gh</text><text transform="translate(275.8 48.45) rotate(.05)">i15040Gh</text><text transform="translate(275.8 53.86) rotate(.05)">i00883Gh</text><text transform="translate(275.8 59.27) rotate(.05)">i57371Gh</text><text transform="translate(275.8 64.68) rotate(.05)">i37868Gh</text><text transform="translate(275.8 70.09) rotate(.05)">i13353Gh</text><text transform="translate(275.8 75.50) rotate(.05)">i06502Gh</text><text transform="translate(275.8 80.91) rotate(.05)">i01462Gh</text><text transform="translate(275.8 86.32) rotate(.05)">i01684Gh</text><text transform="translate(275.8 91.73) rotate(.05)">i63407Gh</text><text transform="translate(275.8 97.14) rotate(.05)">i02470Gh</text><text transform="translate(275.8 102.55) rotate(.05)">i15585Gh</text><text transform="translate(275.8 107.96) rotate(.05)">i10435Gh</text><text transform="translate(275.8 113.37) rotate(.05)">i00561Gh</text><text transform="translate(275.8 118.78) rotate(.05)">i44833Gh</text><text transform="translate(275.8 124.19) rotate(.05)">i50141Gh</text><text transform="translate(275.8 129.60) rotate(.05)">i06906Gh</text><text transform="translate(275.8 135.01) rotate(.05)">i04431Gh</text><text transform="translate(275.8 140.42) rotate(.05)">i68296Gh</text><text transform="translate(275.8 145.83) rotate(.05)">i27249Gh</text><text transform="translate(275.8 151.24) rotate(.05)">i00868Gh</text><text transform="translate(275.8 156.65) rotate(.05)">i08890Gh</text><text transform="translate(275.8 162.06) rotate(.05)">i63100Gh</text><text transform="translate(275.8 167.47) rotate(.05)">i05167Gh</text><text transform="translate(275.8 172.88) rotate(.05)">i50083Gh</text><text transform="translate(275.8 178.29) rotate(.05)">i44071Gh</text><text transform="translate(275.8 183.70) rotate(.05)">i58181Gh</text><text transform="translate(275.8 189.11) rotate(.05)">i44143Gh</text><text transform="translate(275.8 194.52) rotate(.05)">i13776Gh</text><text transform="translate(275.8 199.93) rotate(.05)">i07409Gh</text><text transform="translate(275.8 205.34) rotate(.05)">i11925Gh i14992Gh</text><text transform="translate(275.8 210.75) rotate(.05)">i07074Gh</text><text transform="translate(275.8 216.16) rotate(.05)">i03748Gh</text><text transform="translate(275.8 221.57) rotate(.05)">i17771Gh</text><text transform="translate(275.8 226.98) rotate(.05)">i53417Gh</text><text transform="translate(275.8 232.39) rotate(.05)">i04718Gh</text><text transform="translate(275.8 237.80) rotate(.05)">i44633Gh</text><text transform="translate(275.8 243.21) rotate(.05)">i09128Gh</text><text transform="translate(275.8 248.62) rotate(.05)">i15298Gh</text><text transform="translate(275.8 254.03) rotate(.05)">i11537Gh</text><text transform="translate(275.8 259.44) rotate(.05)">i46020Gh</text><text transform="translate(275.8 264.85) rotate(.05)">i47642Gh</text><text transform="translate(275.8 270.26) rotate(.05)">i35651Gh</text><text transform="translate(275.8 275.67) rotate(.05)">i20556Gh</text><text transform="translate(275.8 281.08) rotate(.05)">i03044Gh</text><text transform="translate(275.8 286.49) rotate(.05)">i21669Gh</text><text transform="translate(275.8 291.90) rotate(.05)">i05640Gh</text><text transform="translate(275.8 297.31) rotate(.05)">i11042Gh</text><text transform="translate(275.8 302.72) rotate(.05)">i14685Gh</text><text transform="translate(275.8 308.13) rotate(.05)">i15606Gh</text><text transform="translate(275.8 313.54) rotate(.05)">i58310Gh</text><text transform="translate(275.8 318.95) rotate(.05)">i37924Gh</text><text transform="translate(275.8 324.36) rotate(.05)">i40822Gh</text><text transform="translate(275.8 329.77) rotate(.05)">i46544Gh</text><text transform="translate(275.8 335.18) rotate(.05)">i14634Gh</text><text transform="translate(275.8 340.59) rotate(.05)">i48612Gh</text><text transform="translate(275.8 346.00) rotate(.05)">i01387Gh</text><text transform="translate(275.8 351.41) rotate(.05)">i53757Gh</text><text transform="translate(275.8 356.82) rotate(.05)">i32833Gh</text><text transform="translate(275.8 362.23) rotate(.05)">i02581Gh</text><text transform="translate(275.8 367.64) rotate(.05)">i23549Gh</text><text transform="translate(275.8 373.05) rotate(.05)">i10666Gh</text><text transform="translate(275.8 378.46) rotate(.05)">i53645Gh</text><text transform="translate(275.8 383.87) rotate(.05)">i07495Gh</text><text transform="translate(275.8 389.28) rotate(.05)">i08831Gh</text><text transform="translate(275.8 394.69) rotate(.05)">i13667Gh</text><text transform="translate(275.8 400.10) rotate(.05)">i34020Gh</text><text transform="translate(275.8 405.51) rotate(.05)">i37970Gh</text><text transform="translate(275.8 410.92) rotate(.05)">i06877Gh</text><text transform="translate(275.8 416.33) rotate(.05)">i11322Gh i51718Gh</text><text transform="translate(275.8 421.74) rotate(.05)">i00239Gh</text><text transform="translate(275.8 427.15) rotate(.05)">i04248Gh i31114Gh</text><text transform="translate(275.8 432.56) rotate(.05)">i59364Gh i19008Gh</text><text transform="translate(275.8 437.97) rotate(.05)">i17453Gh</text><text transform="translate(275.8 443.38) rotate(.05)">i48383Gh i06400Gh</text><text transform="translate(275.8 448.79) rotate(.05)">i17614Gh</text><text transform="translate(275.8 454.20) rotate(.05)">i16537Gh</text><text transform="translate(275.8 459.61) rotate(.05)">i05656Gh</text><text transform="translate(275.8 465.02) rotate(.05)">i10481Gh</text><text transform="translate(275.8 470.43) rotate(.05)">i17343Gh</text><text transform="translate(275.8 475.84) rotate(.05)">i17344Gh</text><text transform="translate(275.8 481.25) rotate(.05)">i09792Gh</text><text transform="translate(275.8 486.66) rotate(.05)">i17609Gh</text><text transform="translate(275.8 492.07) rotate(.05)">i06030Gh</text><text transform="translate(275.8 497.48) rotate(.05)">i62600Gh</text><text transform="translate(275.8 502.89) rotate(.05)">i06751Gh</text><text transform="translate(275.8 508.30) rotate(.05)">i02532Gh</text><text transform="translate(275.8 513.71) rotate(.05)">i57046Gh</text><text transform="translate(275.8 519.12) rotate(.05)">i25721Gh</text><text transform="translate(275.8 524.53) rotate(.05)">i01415Gh i31836Gh</text><text transform="translate(275.8 529.94) rotate(.05)">i24610Gh</text><text transform="translate(275.8 535.35) rotate(.05)">i43587Gh</text><text transform="translate(275.8 540.76) rotate(.05)">i15570Gh</text><text transform="translate(275.8 546.17) rotate(.05)">i33606Gh</text><text transform="translate(275.8 551.58) rotate(.05)">i07104Gh</text><text transform="translate(275.8 556.99) rotate(.05)">i11955Gh</text><text transform="translate(275.8 562.40) rotate(.05)">i15904Gh</text><text transform="translate(275.8 567.81) rotate(.05)">i24409Gh</text><text transform="translate(275.8 573.22) rotate(.05)">i00317Gh</text><text transform="translate(275.8 578.63) rotate(.05)">i46467Gh</text><text transform="translate(275.8 584.04) rotate(.05)">i07204Gh</text><text transform="translate(275.8 589.45) rotate(.05)">i09355Gh</text><text transform="translate(275.8 594.86) rotate(.05)">i45918Gh</text><text transform="translate(275.8 600.27) rotate(.05)">i16236Gh</text><text transform="translate(275.8 605.68) rotate(.05)">i00788Gh</text><text transform="translate(275.8 611.09) rotate(.05)">i22611Gh</text><text transform="translate(275.8 616.50) rotate(.05)">i19131Gh</text><text transform="translate(275.8 621.91) rotate(.05)">i37723Gh</text><text transform="translate(275.8 627.32) rotate(.05)">i06793Gh</text><text transform="translate(275.8 632.73) rotate(.05)">i51444Gh</text><text transform="translate(275.8 638.14) rotate(.05)">i64544Gh</text><text transform="translate(275.8 643.55) rotate(.05)">i17323Gh</text><text transform="translate(275.8 648.96) rotate(.05)">i12493Gh</text><text transform="translate(275.8 654.37) rotate(.05)">i21643Gh</text><text transform="translate(275.8 659.78) rotate(.05)">i58317Gh</text><text transform="translate(275.8 665.19) rotate(.05)">i01073Gh</text><text transform="translate(275.8 670.60) rotate(.05)">i45043Gh</text><text transform="translate(275.8 676.01) rotate(.05)">i00399Gh</text><text transform="translate(275.8 681.42) rotate(.05)">i11582Gh</text><text transform="translate(275.8 686.83) rotate(.05)">i49401Gh</text><text transform="translate(275.8 692.24) rotate(.05)">i69530Gh</text><text transform="translate(275.8 697.65) rotate(.05)">i25203Gh</text><text transform="translate(275.8 703.06) rotate(.05)">i10930Gh</text><text transform="translate(275.8 708.47) rotate(.05)">i26529Gh</text><text transform="translate(275.8 713.88) rotate(.05)">i11307Gh i57161Gh</text></g>
<text x="456.9" y="7.0" class="t" textLength="28" lengthAdjust="spacingAndGlyphs">Chr26</text>
<path class="m" d="M429.8 22.70H432.8L450.4 22.40M463.5 22.40L481.4 22.70H484.4M429.8 31.90H432.8L450.4 32.42M463.5 32.42L481.4 31.90H484.4M429.8 37.31H432.8L450.4 36.13M463.5 36.13L481.4 37.31H484.4M429.8 47.40H432.8L450.4 49.13M463.5 49.13L481.4 47.40H484.4M429.8 52.81H432.8L450.4 51.72M463.5 51.72L481.4 52.81H484.4M429.8 58.22H432.8L450.4 56.92M463.5 56.92L481.4 58.22H484.4M429.8 66.30H432.8L450.4 68.06M463.5 68.06L481.4 66.30H484.4M429.8 71.71H432.8L450.4 70.28M463.5 70.28L481.4 71.71H484.4M429.8 87.80H432.8L450.4 88.47M463.5 88.47L481.4 87.80H484.4M429.8 96.60H432.8L450.4 99.61M463.5 99.61L481.4 96.60H484.4M429.8 102.01H432.8L450.4 102.21M463.5 102.21L481.4 102.01H484.4M429.8 107.42H432.8L450.4 105.55M463.5 105.55L481.4 107.42H484.4M429.8 112.83H432.8L450.4 106.66M463.5 106.66L481.4 112.83H484.4M429.8 118.24H432.8L450.4 114.83M463.5 114.83L481.4 118.24H484.4M429.8 130.50H432.8L450.4 130.79M463.5 130.79L481.4 130.50H484.4M429.8 139.40H432.8L450.4 141.56M463.5 141.56L481.4 139.40H484.4M429.8 144.81H432.8L450.4 146.01M463.5 146.01L481.4 144.81H484.4M429.8 150.22H432.8L450.4 150.84M463.5 150.84L481.4 150.22H484.4M429.8 155.63H432.8L450.4 152.32M463.5 152.32L481.4 155.63H484.4M429.8 162.60H432.8L450.4 170.51M463.5 170.51L481.4 162.60H484.4M429.8 168.01H432.8L450.4 178.30M463.5 178.30L481.4 168.01H484.4M429.8 173.42H432.8L450.4 180.16M463.5 180.16L481.4 173.42H484.4M429.8 178.83H432.8L450.4 182.02M463.5 182.02L481.4 178.83H484.4M429.8 184.24H432.8L450.4 183.87M463.5 183.87L481.4 184.24H484.4M429.8 189.65H432.8L450.4 185.73M463.5 185.73L481.4 189.65H484.4M429.8 195.06H432.8L450.4 191.67M463.5 191.67L481.4 195.06H484.4M429.8 200.47H432.8L450.4 193.52M463.5 193.52L481.4 200.47H484.4M429.8 205.88H432.8L450.4 197.61M463.5 197.61L481.4 205.88H484.4M429.8 211.29H432.8L450.4 199.46M463.5 199.46L481.4 211.29H484.4M429.8 216.70H432.8L450.4 203.17M463.5 203.17L481.4 216.70H484.4M429.8 222.11H432.8L450.4 204.66M463.5 204.66L481.4 222.11H484.4M429.8 227.52H432.8L450.4 206.52M463.5 206.52L481.4 227.52H484.4M429.8 232.93H432.8L450.4 208.37M463.5 208.37L481.4 232.93H484.4M429.8 238.34H432.8L450.4 210.97M463.5 210.97L481.4 238.34H484.4M429.8 243.75H432.8L450.4 215.80M463.5 215.80L481.4 243.75H484.4M429.8 249.16H432.8L450.4 236.21M463.5 236.21L481.4 249.16H484.4M429.8 254.57H432.8L450.4 237.70M463.5 237.70L481.4 254.57H484.4M429.8 259.98H432.8L450.4 246.98M463.5 246.98L481.4 259.98H484.4M429.8 265.39H432.8L450.4 254.40M463.5 254.40L481.4 265.39H484.4M429.8 270.80H432.8L450.4 258.11M463.5 258.11L481.4 270.80H484.4M429.8 276.21H432.8L450.4 261.82M463.5 261.82L481.4 276.21H484.4M429.8 281.62H432.8L450.4 263.68M463.5 263.68L481.4 281.62H484.4M429.8 287.03H432.8L450.4 265.16M463.5 265.16L481.4 287.03H484.4M429.8 292.44H432.8L450.4 268.88M463.5 268.88L481.4 292.44H484.4M429.8 297.85H432.8L450.4 272.59M463.5 272.59L481.4 297.85H484.4M429.8 303.26H432.8L450.4 274.44M463.5 274.44L481.4 303.26H484.4M429.8 308.67H432.8L450.4 279.64M463.5 279.64L481.4 308.67H484.4M429.8 314.08H432.8L450.4 285.95M463.5 285.95L481.4 314.08H484.4M429.8 319.49H432.8L450.4 289.29M463.5 289.29L481.4 319.49H484.4M429.8 324.90H432.8L450.4 293.00M463.5 293.00L481.4 324.90H484.4M429.8 330.31H432.8L450.4 294.49M463.5 294.49L481.4 330.31H484.4M429.8 335.72H432.8L450.4 300.80M463.5 300.80L481.4 335.72H484.4M429.8 341.13H432.8L450.4 302.66M463.5 302.66L481.4 341.13H484.4M429.8 346.54H432.8L450.4 314.53M463.5 314.53L481.4 346.54H484.4M429.8 351.95H432.8L450.4 318.25M463.5 318.25L481.4 351.95H484.4M429.8 357.36H432.8L450.4 320.10M463.5 320.10L481.4 357.36H484.4M429.8 362.77H432.8L450.4 323.81M463.5 323.81L481.4 362.77H484.4M429.8 368.18H432.8L450.4 325.67M463.5 325.67L481.4 368.18H484.4M429.8 373.59H432.8L450.4 327.53M463.5 327.53L481.4 373.59H484.4M429.8 379.00H432.8L450.4 329.38M463.5 329.38L481.4 379.00H484.4M429.8 384.41H432.8L450.4 331.24M463.5 331.24L481.4 384.41H484.4M429.8 389.82H432.8L450.4 368.36M463.5 368.36L481.4 389.82H484.4M429.8 395.23H432.8L450.4 380.24M463.5 380.24L481.4 395.23H484.4M429.8 400.64H432.8L450.4 382.09M463.5 382.09L481.4 400.64H484.4M429.8 406.05H432.8L450.4 394.34M463.5 394.34L481.4 406.05H484.4M429.8 411.46H432.8L450.4 401.77M463.5 401.77L481.4 411.46H484.4M429.8 429.30H432.8L450.4 428.86M463.5 428.86L481.4 429.30H484.4M429.8 434.70H432.8L450.4 434.43M463.5 434.43L481.4 434.70H484.4M429.8 441.00H432.8L450.4 442.23M463.5 442.23L481.4 441.00H484.4M429.8 446.41H432.8L450.4 445.94M463.5 445.94L481.4 446.41H484.4M429.8 456.20H432.8L450.4 461.53M463.5 461.53L481.4 456.20H484.4M429.8 461.61H432.8L450.4 463.39M463.5 463.39L481.4 461.61H484.4M429.8 467.02H432.8L450.4 465.24M463.5 465.24L481.4 467.02H484.4M429.8 472.43H432.8L450.4 470.81M463.5 470.81L481.4 472.43H484.4M429.8 477.84H432.8L450.4 472.67M463.5 472.67L481.4 477.84H484.4M429.8 486.90H432.8L450.4 486.77M463.5 486.77L481.4 486.90H484.4M429.8 496.50H432.8L450.4 496.05M463.5 496.05L481.4 496.50H484.4M429.8 503.40H432.8L450.4 503.48M463.5 503.48L481.4 503.40H484.4M429.8 512.60H432.8L450.4 513.13M463.5 513.13L481.4 512.60H484.4M429.8 518.01H432.8L450.4 518.32M463.5 518.32L481.4 518.01H484.4"/>
<path class="n" d="M450.4 22.40H463.5M450.4 32.42H463.5M450.4 36.13H463.5M450.4 49.13H463.5M450.4 51.72H463.5M450.4 56.92H463.5M450.4 68.06H463.5M450.4 70.28H463.5M450.4 88.47H463.5M450.4 99.61H463.5M450.4 102.21H463.5M450.4 105.55H463.5M450.4 106.66H463.5M450.4 114.83H463.5M450.4 130.79H463.5M450.4 141.56H463.5M450.4 146.01H463.5M450.4 150.84H463.5M450.4 152.32H463.5M450.4 170.51H463.5M450.4 178.30H463.5M450.4 180.16H463.5M450.4 182.02H463.5M450.4 183.87H463.5M450.4 185.73H463.5M450.4 191.67H463.5M450.4 193.52H463.5M450.4 197.61H463.5M450.4 199.46H463.5M450.4 203.17H463.5M450.4 204.66H463.5M450.4 206.52H463.5M450.4 208.37H463.5M450.4 210.97H463.5M450.4 215.80H463.5M450.4 236.21H463.5M450.4 237.70H463.5M450.4 246.98H463.5M450.4 254.40H463.5M450.4 258.11H463.5M450.4 261.82H463.5M450.4 263.68H463.5M450.4 265.16H463.5M450.4 268.88H463.5M450.4 272.59H463.5M450.4 274.44H463.5M450.4 279.64H463.5M450.4 285.95H463.5M450.4 289.29H463.5M450.4 293.00H463.5M450.4 294.49H463.5M450.4 300.80H463.5M450.4 302.66H463.5M450.4 314.53H463.5M450.4 318.25H463.5M450.4 320.10H463.5M450.4 323.81H463.5M450.4 325.67H463.5M450.4 327.53H463.5M450.4 329.38H463.5M450.4 331.24H463.5M450.4 368.36H463.5M450.4 380.24H463.5M450.4 382.09H463.5M450.4 394.34H463.5M450.4 401.77H463.5M450.4 428.86H463.5M450.4 434.43H463.5M450.4 442.23H463.5M450.4 445.94H463.5M450.4 461.53H463.5M450.4 463.39H463.5M450.4 465.24H463.5M450.4 470.81H463.5M450.4 472.67H463.5M450.4 486.77H463.5M450.4 496.05H463.5M450.4 503.48H463.5M450.4 513.13H463.5M450.4 518.32H463.5"/>
<rect class="b" x="450.4" y="16.3" width="13.1" height="508.3" rx="6.5"/>
<path class="m" d="M483.8 30.10v3.6"/>
<path class="m" d="M483.8 56.42v3.6"/>
<g class="l"><text transform="translate(429.4 24.75) rotate(.05) scale(1.1 1)">0.0</text><text transform="translate(429.4 33.95) rotate(.05) scale(1.1 1)">2.7</text><text transform="translate(429.4 39.36) rotate(.05) scale(1.1 1)">3.7</text><text transform="translate(429.4 49.45) rotate(.05) scale(1.1 1)">7.2</text><text transform="translate(429.4 54.86) rotate(.05) scale(1.1 1)">7.9</text><text transform="translate(429.4 60.27) rotate(.05) scale(1.1 1)">9.3</text><text transform="translate(429.4 68.35) rotate(.05) scale(1.1 1)">12.3</text><text transform="translate(429.4 73.76) rotate(.05) scale(1.1 1)">12.9</text><text transform="translate(429.4 89.85) rotate(.05) scale(1.1 1)">17.8</text><text transform="translate(429.4 98.65) rotate(.05) scale(1.1 1)">20.8</text><text transform="translate(429.4 104.06) rotate(.05) scale(1.1 1)">21.5</text><text transform="translate(429.4 109.47) rotate(.05) scale(1.1 1)">22.4</text><text transform="translate(429.4 114.88) rotate(.05) scale(1.1 1)">22.7</text><text transform="translate(429.4 120.29) rotate(.05) scale(1.1 1)">24.9</text><text transform="translate(429.4 132.55) rotate(.05) scale(1.1 1)">29.2</text><text transform="translate(429.4 141.45) rotate(.05) scale(1.1 1)">32.1</text><text transform="translate(429.4 146.86) rotate(.05) scale(1.1 1)">33.3</text><text transform="translate(429.4 152.27) rotate(.05) scale(1.1 1)">34.6</text><text transform="translate(429.4 157.68) rotate(.05) scale(1.1 1)">35.0</text><text transform="translate(429.4 164.65) rotate(.05) scale(1.1 1)">39.9</text><text transform="translate(429.4 170.06) rotate(.05) scale(1.1 1)">42.0</text><text transform="translate(429.4 175.47) rotate(.05) scale(1.1 1)">42.5</text><text transform="translate(429.4 180.88) rotate(.05) scale(1.1 1)">43.0</text><text transform="translate(429.4 186.29) rotate(.05) scale(1.1 1)">43.5</text><text transform="translate(429.4 191.70) rotate(.05) scale(1.1 1)">44.0</text><text transform="translate(429.4 197.11) rotate(.05) scale(1.1 1)">45.6</text><text transform="translate(429.4 202.52) rotate(.05) scale(1.1 1)">46.1</text><text transform="translate(429.4 207.93) rotate(.05) scale(1.1 1)">47.2</text><text transform="translate(429.4 213.34) rotate(.05) scale(1.1 1)">47.7</text><text transform="translate(429.4 218.75) rotate(.05) scale(1.1 1)">48.7</text><text transform="translate(429.4 224.16) rotate(.05) scale(1.1 1)">49.1</text><text transform="translate(429.4 229.57) rotate(.05) scale(1.1 1)">49.6</text><text transform="translate(429.4 234.98) rotate(.05) scale(1.1 1)">50.1</text><text transform="translate(429.4 240.39) rotate(.05) scale(1.1 1)">50.8</text><text transform="translate(429.4 245.80) rotate(.05) scale(1.1 1)">52.1</text><text transform="translate(429.4 251.21) rotate(.05) scale(1.1 1)">57.6</text><text transform="translate(429.4 256.62) rotate(.05) scale(1.1 1)">58.0</text><text transform="translate(429.4 262.03) rotate(.05) scale(1.1 1)">60.5</text><text transform="translate(429.4 267.44) rotate(.05) scale(1.1 1)">62.5</text><text transform="translate(429.4 272.85) rotate(.05) scale(1.1 1)">63.5</text><text transform="translate(429.4 278.26) rotate(.05) scale(1.1 1)">64.5</text><text transform="translate(429.4 283.67) rotate(.05) scale(1.1 1)">65.0</text><text transform="translate(429.4 289.08) rotate(.05) scale(1.1 1)">65.4</text><text transform="translate(429.4 294.49) rotate(.05) scale(1.1 1)">66.4</text><text transform="translate(429.4 299.90) rotate(.05) scale(1.1 1)">67.4</text><text transform="translate(429.4 305.31) rotate(.05) scale(1.1 1)">67.9</text><text transform="translate(429.4 310.72) rotate(.05) scale(1.1 1)">69.3</text><text transform="translate(429.4 316.13) rotate(.05) scale(1.1 1)">71.0</text><text transform="translate(429.4 321.54) rotate(.05) scale(1.1 1)">71.9</text><text transform="translate(429.4 326.95) rotate(.05) scale(1.1 1)">72.9</text><text transform="translate(429.4 332.36) rotate(.05) scale(1.1 1)">73.3</text><text transform="translate(429.4 337.77) rotate(.05) scale(1.1 1)">75.0</text><text transform="translate(429.4 343.18) rotate(.05) scale(1.1 1)">75.5</text><text transform="translate(429.4 348.59) rotate(.05) scale(1.1 1)">78.7</text><text transform="translate(429.4 354.00) rotate(.05) scale(1.1 1)">79.7</text><text transform="translate(429.4 359.41) rotate(.05) scale(1.1 1)">80.2</text><text transform="translate(429.4 364.82) rotate(.05) scale(1.1 1)">81.2</text><text transform="translate(429.4 370.23) rotate(.05) scale(1.1 1)">81.7</text><text transform="translate(429.4 375.64) rotate(.05) scale(1.1 1)">82.2</text><text transform="translate(429.4 381.05) rotate(.05) scale(1.1 1)">82.7</text><text transform="translate(429.4 386.46) rotate(.05) scale(1.1 1)">83.2</text><text transform="translate(429.4 391.87) rotate(.05) scale(1.1 1)">93.2</text><text transform="translate(429.4 397.28) rotate(.05) scale(1.1 1)">96.4</text><text transform="translate(429.4 402.69) rotate(.05) scale(1.1 1)">96.9</text><text transform="translate(429.4 408.10) rotate(.05) scale(1.1 1)">100.2</text><text transform="translate(429.4 413.51) rotate(.05) scale(1.1 1)">102.2</text><text transform="translate(429.4 431.35) rotate(.05) scale(1.1 1)">109.5</text><text transform="translate(429.4 436.75) rotate(.05) scale(1.1 1)">111.0</text><text transform="translate(429.4 443.05) rotate(.05) scale(1.1 1)">113.1</text><text transform="translate(429.4 448.46) rotate(.05) scale(1.1 1)">114.1</text><text transform="translate(429.4 458.25) rotate(.05) scale(1.1 1)">118.3</text><text transform="translate(429.4 463.66) rotate(.05) scale(1.1 1)">118.8</text><text transform="translate(429.4 469.07) rotate(.05) scale(1.1 1)">119.3</text><text transform="translate(429.4 474.48) rotate(.05) scale(1.1 1)">120.8</text><text transform="translate(429.4 479.89) rotate(.05) scale(1.1 1)">121.3</text><text transform="translate(429.4 488.95) rotate(.05) scale(1.1 1)">125.1</text><text transform="translate(429.4 498.55) rotate(.05) scale(1.1 1)">127.6</text><text transform="translate(429.4 505.45) rotate(.05) scale(1.1 1)">129.6</text><text transform="translate(429.4 514.65) rotate(.05) scale(1.1 1)">132.2</text><text transform="translate(429.4 520.06) rotate(.05) scale(1.1 1)">133.6</text></g>
<g class="r"><text transform="translate(485.0 24.50) rotate(.05)">i38281Gh</text><text transform="translate(485.0 33.70) rotate(.05)">i06464Gh i16049Gh</text><text transform="translate(485.0 39.11) rotate(.05)">i26605Gh</text><text transform="translate(485.0 49.20) rotate(.05)">i16630Gh</text><text transform="translate(485.0 54.61) rotate(.05)">i32611Gh</text><text transform="translate(485.0 60.02) rotate(.05)">i39572Gh i00082Gh</text><text transform="translate(485.0 68.10) rotate(.05)">i31995Gh</text><text transform="translate(485.0 73.51) rotate(.05)">i52254Gh</text><text transform="translate(485.0 89.60) rotate(.05)">i08211Gh</text><text transform="translate(485.0 98.40) rotate(.05)">i37342Gh</text><text transform="translate(485.0 103.81) rotate(.05)">i07509Gh</text><text transform="translate(485.0 109.22) rotate(.05)">i31923Gh</text><text transform="translate(485.0 114.63) rotate(.05)">i66937Gh</text><text transform="translate(485.0 120.04) rotate(.05)">i09306Gh</text><text transform="translate(485.0 132.30) rotate(.05)">i52651Gh</text><text transform="translate(485.0 141.20) rotate(.05)">i03308Gh</text><text transform="translate(485.0 146.61) rotate(.05)">i05169Gh</text><text transform="translate(485.0 152.02) rotate(.05)">i48464Gh</text><text transform="translate(485.0 157.43) rotate(.05)">i63665Gh</text><text transform="translate(485.0 164.40) rotate(.05)">i48720Gh</text><text transform="translate(485.0 169.81) rotate(.05)">i09773Gh</text><text transform="translate(485.0 175.22) rotate(.05)">i49727Gh</text><text transform="translate(485.0 180.63) rotate(.05)">i31125Gh</text><text transform="translate(485.0 186.04) rotate(.05)">i35178Gh</text><text transform="translate(485.0 191.45) rotate(.05)">i50021Gh</text><text transform="translate(485.0 196.86) rotate(.05)">i28108Gh</text><text transform="translate(485.0 202.27) rotate(.05)">i32019Gh</text><text transform="translate(485.0 207.68) rotate(.05)">i03274Gh</text><text transform="translate(485.0 213.09) rotate(.05)">i03159Gh</text><text transform="translate(485.0 218.50) rotate(.05)">i12594Gh</text><text transform="translate(485.0 223.91) rotate(.05)">i42487Gh</text><text transform="translate(485.0 229.32) rotate(.05)">i19498Gh</text><text transform="translate(485.0 234.73) rotate(.05)">i15503Gh</text><text transform="translate(485.0 240.14) rotate(.05)">i06245Gh</text><text transform="translate(485.0 245.55) rotate(.05)">i32418Gh</text><text transform="translate(485.0 250.96) rotate(.05)">i05788Gh</text><text transform="translate(485.0 256.37) rotate(.05)">i61486Gh</text><text transform="translate(485.0 261.78) rotate(.05)">i24659Gh</text><text transform="translate(485.0 267.19) rotate(.05)">i05517Gh</text><text transform="translate(485.0 272.60) rotate(.05)">i12904Gh</text><text transform="translate(485.0 278.01) rotate(.05)">i54495Gh</text><text transform="translate(485.0 283.42) rotate(.05)">i00324Gh</text><text transform="translate(485.0 288.83) rotate(.05)">i66685Gh</text><text transform="translate(485.0 294.24) rotate(.05)">i02739Gh</text><text transform="translate(485.0 299.65) rotate(.05)">i00009Gh</text><text transform="translate(485.0 305.06) rotate(.05)">i24185Gh</text><text transform="translate(485.0 310.47) rotate(.05)">i53694Gh</text><text transform="translate(485.0 315.88) rotate(.05)">i62359Gh</text><text transform="translate(485.0 321.29) rotate(.05)">i42203Gh</text><text transform="translate(485.0 326.70) rotate(.05)">i07112Gh</text><text transform="translate(485.0 332.11) rotate(.05)">i16400Gh</text><text transform="translate(485.0 337.52) rotate(.05)">i55997Gh</text><text transform="translate(485.0 342.93) rotate(.05)">i68732Gh</text><text transform="translate(485.0 348.34) rotate(.05)">i00080Gh</text><text transform="translate(485.0 353.75) rotate(.05)">i32320Gh</text><text transform="translate(485.0 359.16) rotate(.05)">i00983Gh</text><text transform="translate(485.0 364.57) rotate(.05)">i06389Gh</text><text transform="translate(485.0 369.98) rotate(.05)">i56928Gh</text><text transform="translate(485.0 375.39) rotate(.05)">i11407Gh</text><text transform="translate(485.0 380.80) rotate(.05)">i50667Gh</text><text transform="translate(485.0 386.21) rotate(.05)">i07231Gh</text><text transform="translate(485.0 391.62) rotate(.05)">i13015Gh</text><text transform="translate(485.0 397.03) rotate(.05)">i10486Gh</text><text transform="translate(485.0 402.44) rotate(.05)">i54431Gh</text><text transform="translate(485.0 407.85) rotate(.05)">i50243Gh</text><text transform="translate(485.0 413.26) rotate(.05)">i12536Gh</text><text transform="translate(485.0 431.10) rotate(.05)">i29368Gh</text><text transform="translate(485.0 436.50) rotate(.05)">i47800Gh</text><text transform="translate(485.0 442.80) rotate(.05)">i33943Gh</text><text transform="translate(485.0 448.21) rotate(.05)">i39919Gh</text><text transform="translate(485.0 458.00) rotate(.05)">i02001Gh</text><text transform="translate(485.0 463.41) rotate(.05)">i09252Gh</text><text transform="translate(485.0 468.82) rotate(.05)">i00020Gh</text><text transform="translate(485.0 474.23) rotate(.05)">i00195Gh</text><text transform="translate(485.0 479.64) rotate(.05)">i18161Gh</text><text transform="translate(485.0 488.70) rotate(.05)">i13310Gh</text><text transform="translate(485.0 498.30) rotate(.05)">i01471Gh</text><text transform="translate(485.0 505.20) rotate(.05)">i01345Gh</text><text transform="translate(485.0 514.40) rotate(.05)">i26405Gh</text><text transform="translate(485.0 519.81) rotate(.05)">i14055Gh</text></g>
<rect x="88.3" y="195" width="5.3" height="81.7" fill="#e8211d"/>
<text class="q" fill="#e8211d" stroke="#e8211d" transform="translate(96.2 235.8) rotate(90) scale(.975 1.08)">qUHM-17-CH24-1</text>
<rect x="108.1" y="228.6" width="4.8" height="79.5" fill="#8a8a1c"/>
<text class="q" fill="#8a8a1c" stroke="#8a8a1c" transform="translate(115.5 268.4) rotate(90) scale(.975 1.08)">qLI-17-CH24-1</text>
<rect x="127.6" y="237.4" width="5.0" height="76.2" fill="#8b1414"/>
<text class="q" fill="#8b1414" stroke="#8b1414" transform="translate(135.2 275.5) rotate(90) scale(.975 1.08)">qLP-CH24-1</text>
<rect x="147.1" y="276.2" width="5.0" height="71.8" fill="#000"/>
<text class="q" fill="#000" stroke="#000" transform="translate(154.7 312.1) rotate(90) scale(.975 1.08)">qMIC-CH24-1</text>
<rect x="146.9" y="464.5" width="5.0" height="25.0" fill="#14148c"/>
<text class="q" fill="#14148c" stroke="#14148c" transform="translate(154.5 477.0) rotate(90) scale(.975 1.08)">qFS-17-CH24-1</text>
<rect x="166.9" y="481.2" width="5.0" height="71.9" fill="#e8211d"/>
<text class="q" fill="#e8211d" stroke="#e8211d" transform="translate(174.5 517.1) rotate(90) scale(.975 1.08)">qUHM-16-CH24-1</text>
<rect x="186.7" y="501" width="5.0" height="75.9" fill="#8b1414"/>
<text class="q" fill="#8b1414" stroke="#8b1414" transform="translate(194.3 539.0) rotate(90) scale(.975 1.08)">qLP-16-CH24-2</text>
<rect x="316" y="64.2" width="5.2" height="49.5" fill="#dcc22e"/>
<text class="q" fill="#e6d04a" stroke="#e6d04a" transform="translate(323.8 89.0) rotate(90) scale(.975 1.08)">qFG-16-CH25-2</text>
<rect x="316" y="165.3" width="5.2" height="46.1" fill="#1eea1e"/>
<text class="q" fill="#1eea1e" stroke="#1eea1e" transform="translate(323.8 188.4) rotate(90) scale(.975 1.08)">qBW-17-CH25-1</text>
<rect x="335.9" y="240.1" width="4.6" height="4.6" fill="#000"/>
<text class="q" fill="#000" stroke="#000" transform="translate(343.1 242.4) rotate(90) scale(.975 1.08)">qMIC-17-CH25-2</text>
<rect x="336.1" y="342.8" width="5.0" height="107.6" fill="#8b1414"/>
<text class="q" fill="#8b1414" stroke="#8b1414" transform="translate(343.7 396.6) rotate(90) scale(.975 1.08)">qLP-CH25-1</text>
<rect x="355.9" y="350.2" width="4.7" height="75.8" fill="#dcc22e"/>
<text class="q" fill="#e6d04a" stroke="#e6d04a" transform="translate(363.2 388.1) rotate(90) scale(.975 1.08)">qFG-CH25-1</text>
<rect x="375.4" y="364.8" width="4.7" height="75.7" fill="#000"/>
<text class="q" fill="#000" stroke="#000" transform="translate(382.7 402.6) rotate(90) scale(.975 1.08)">qMIC-CH25-1</text>
<rect x="395.1" y="386.7" width="4.7" height="92.4" fill="#14148c"/>
<text class="q" fill="#14148c" stroke="#14148c" transform="translate(402.4 432.9) rotate(90) scale(.975 1.08)">qFS-CH25-1</text>
<rect x="394.7" y="631.8" width="5.1" height="53.9" fill="#8b1414"/>
<text class="q" fill="#8b1414" stroke="#8b1414" transform="translate(402.4 658.8) rotate(90) scale(.975 1.08)">qLP-16-CH25-2</text>
<rect x="524.7" y="129.5" width="5.1" height="64.1" fill="#0e820e"/>
<text class="q" fill="#0e820e" stroke="#0e820e" transform="translate(532.4 161.6) rotate(90) scale(.975 1.08)">qUI-17-CH26-1</text>
<rect x="524.9" y="381.8" width="4.9" height="20.2" fill="#ee00ee"/>
<text class="q" fill="#ee00ee" stroke="#ee00ee" transform="translate(532.4 391.9) rotate(90) scale(.975 1.08)">qSFC-17-CH26-1</text>
<rect x="544.2" y="402" width="4.9" height="44.4" fill="#22e6e6"/>
<text class="q" fill="#22e6e6" stroke="#22e6e6" transform="translate(551.7 424.2) rotate(90) scale(.975 1.08)">qSI-17-CH26-1</text>
<rect x="638.8" y="64.8" width="26.4" height="16.1" fill="#000"/>
<text class="g" x="668.8" y="77.5" fill="#000" textLength="89.7" lengthAdjust="spacingAndGlyphs">Fiber Micronaire</text>
<rect x="638.8" y="91.4" width="26.4" height="16.1" fill="#ff0000"/>
<text class="g" x="668.8" y="104.1" fill="#e02020" textLength="92" lengthAdjust="spacingAndGlyphs">Upper Half Mean</text>
<rect x="638.8" y="118.1" width="26.4" height="16.1" fill="#008000"/>
<text class="g" x="668.8" y="130.8" fill="#1a8a1a" textLength="91.6" lengthAdjust="spacingAndGlyphs">Uniformity Index</text>
<rect x="638.8" y="144.8" width="26.4" height="16.1" fill="#2f5597"/>
<text class="g" x="668.8" y="157.4" fill="#3a5f8f" textLength="76.1" lengthAdjust="spacingAndGlyphs">Fiber Strength</text>
<rect x="638.8" y="171.4" width="26.4" height="16.1" fill="#8b008b"/>
<text class="g" x="668.8" y="184.1" fill="#a0109a" textLength="87.3" lengthAdjust="spacingAndGlyphs">Fiber Elongation</text>
<rect x="638.8" y="198.1" width="26.4" height="16.1" fill="#ff66ff"/>
<text class="g" x="668.8" y="210.8" fill="#ee82ee" textLength="105" lengthAdjust="spacingAndGlyphs">Short Fiber Content</text>
<rect x="638.8" y="224.7" width="26.4" height="16.1" fill="#66ff33"/>
<text class="g" x="668.8" y="237.4" fill="#77ee55" textLength="62.3" lengthAdjust="spacingAndGlyphs">Boll Weight</text>
<rect x="638.8" y="251.3" width="26.4" height="16.1" fill="#7b3310"/>
<text class="g" x="668.8" y="264.0" fill="#c8622a" textLength="83.2" lengthAdjust="spacingAndGlyphs">Lint Percentage</text>
<rect x="638.8" y="278.0" width="26.4" height="16.1" fill="#1eb0f0"/>
<text class="g" x="668.8" y="290.7" fill="#22b8c8" textLength="58.7" lengthAdjust="spacingAndGlyphs">Seed Index</text>
<rect x="638.8" y="304.6" width="26.4" height="16.1" fill="#808000"/>
<text class="g" x="668.8" y="317.3" fill="#8a8a10" textLength="52.8" lengthAdjust="spacingAndGlyphs">Lint Index</text>
<rect x="638.8" y="331.3" width="26.4" height="16.1" fill="#7a7272"/>
<text class="g" x="668.8" y="344.0" fill="#707070" textLength="65.9" lengthAdjust="spacingAndGlyphs">Plant Height</text>
<rect x="638.8" y="357.9" width="26.4" height="16.1" fill="#c8c810"/>
<text class="g" x="668.8" y="370.6" fill="#d8d830" textLength="106.8" lengthAdjust="spacingAndGlyphs">Seed Fuzzless Grade</text>
</svg>
</body></html>
